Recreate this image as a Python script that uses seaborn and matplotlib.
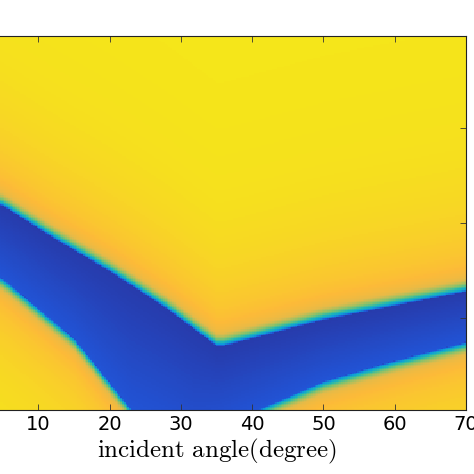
import numpy as np
import matplotlib
matplotlib.use('Agg')
import matplotlib.pyplot as plt
from matplotlib.colors import LinearSegmentedColormap
import seaborn as sns

plt.rcParams['mathtext.fontset'] = 'cm'

# band edges (angle in degree, y in axis fraction 0..1)
upper_deg = [0, 5, 12, 20, 28, 35, 36, 50, 70]
upper_y = [0.57, 0.545, 0.46, 0.37, 0.27, 0.17, 0.17, 0.24, 0.315]
lower_deg = [0, 5, 15, 23, 32, 41, 50, 60, 70]
lower_y = [0.39, 0.35, 0.19, 0.0, -0.08, 0.0, 0.075, 0.13, 0.18]
xtick_vals = [10, 20, 30, 40, 50, 60, 70]

# parula-like colours
parula = LinearSegmentedColormap.from_list('parula', [
    (0.00, (0.16, 0.20, 0.62)),
    (0.12, (0.13, 0.33, 0.84)),
    (0.30, (0.05, 0.62, 0.85)),
    (0.45, (0.13, 0.72, 0.70)),
    (0.60, (0.50, 0.76, 0.43)),
    (0.75, (0.90, 0.73, 0.28)),
    (0.85, (0.99, 0.73, 0.22)),
    (1.00, (0.96, 0.90, 0.10)),
])

nx, ny = 280, 240
xs = np.linspace(0, 70, nx)
ys = np.linspace(0, 1, ny)
up = np.interp(xs, upper_deg, upper_y)
lo = np.interp(xs, lower_deg, lower_y)
X, Y = np.meshgrid(xs, ys)
U = up[None, :]
L = lo[None, :]
d = np.where(Y > U, Y - U, np.where(Y < L, L - Y, 0.0))
inside = (Y <= U) & (Y >= L)
frac = np.clip((U - Y) / np.maximum(U - L, 1e-6), 0, 1)
val = np.where(inside, 0.03 + 0.09 * frac,
               0.08 + 0.72 * (1 - np.exp(-d / 0.016)) + 0.2 * (1 - np.exp(-d / 0.18)))
val = val[::-1]

fig = plt.figure(figsize=(4.74, 4.74), dpi=100)
ax = fig.add_axes([-33 / 474, 64 / 474, 499 / 474, 374 / 474])
sns.heatmap(val, ax=ax, cmap=parula, vmin=0, vmax=1, cbar=False,
            xticklabels=False, yticklabels=False, rasterized=True)
pos = [v / 70 * nx for v in xtick_vals]
ax.set_xticks(pos)
ax.set_xticklabels([str(v) for v in xtick_vals], fontsize=14)
ax.set_yticks([ny * (1 - 0.245), ny * (1 - 0.5), ny * (1 - 0.755)])
ax.set_yticklabels([])
ax.tick_params(direction='in', length=4, top=True, right=True, width=0.6, colors='#333333')
for t in ax.get_xticklabels():
    t.set_color('black')
for s in ax.spines.values():
    s.set_visible(True)
    s.set_linewidth(0.8)
    s.set_color('#222222')
ax.set_xlabel(r'$\mathrm{incident\ angle(degree)}$', fontsize=18, labelpad=2)
fig.savefig('out.png', dpi=100)
